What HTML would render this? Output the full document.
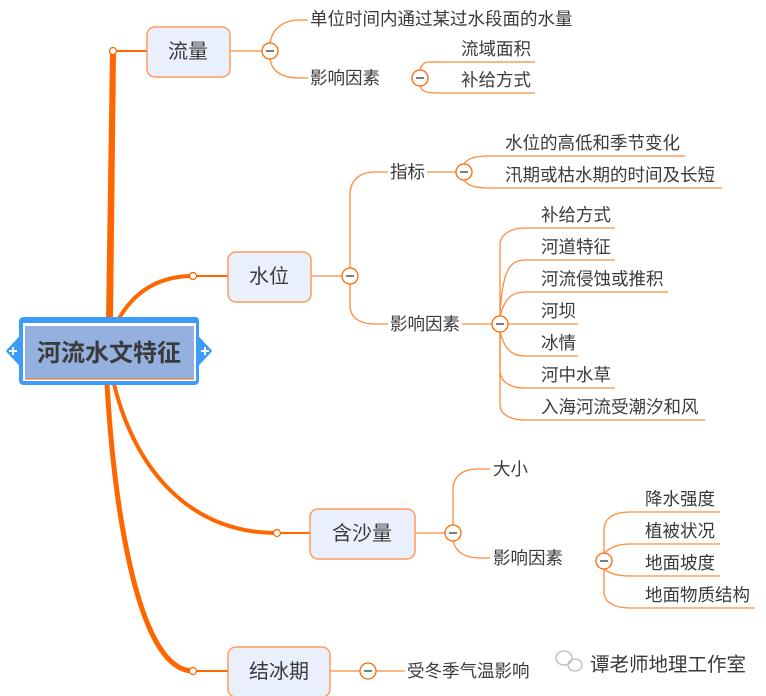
<!DOCTYPE html>
<html><head><meta charset="utf-8"><style>
html,body{margin:0;padding:0;background:#fff;}
svg{display:block;}
text{font-family:"Liberation Sans","Noto Sans CJK SC",sans-serif;fill:#3a3a3a;}
</style></head><body>
<svg width="766" height="696" viewBox="0 0 766 696" xmlns="http://www.w3.org/2000/svg">
<g fill="none" stroke="#ff6600" stroke-linecap="round">
 <path d="M106 320 L110 52 L116 52 L113 320 Z" fill="#ff6600" stroke="none"/>
 <line x1="113" y1="51" x2="147" y2="51" stroke-width="2"/>
 <path d="M118 320 C135 290 160 276 193 276" stroke-width="4"/>
 <line x1="193" y1="276" x2="228" y2="276" stroke-width="2"/>
 <path d="M114 384 C135 470 190 533 277 533" stroke-width="4"/>
 <line x1="277" y1="533" x2="310" y2="533" stroke-width="2"/>
 <path d="M107 384 C115 520 140 671 193 671" stroke-width="5"/>
 <line x1="193" y1="671" x2="228" y2="671" stroke-width="2"/>
</g>
<g fill="#fff" stroke="#ff6600" stroke-width="1.2">
 <circle cx="113" cy="51" r="3.5"/><circle cx="193" cy="276" r="3.5"/>
 <circle cx="277" cy="533" r="3.5"/><circle cx="193" cy="671" r="3.5"/>
</g>
<g fill="none" stroke="#ff8a3c" stroke-width="1.3">
 <line x1="230" y1="51" x2="262" y2="51"/>
 <path d="M270 43 C272 30 282 20 300 20 L308 20"/>
 <path d="M270 59 C272 72 282 78 300 78 L308 78"/>
 <path d="M420 70 C422 60 430 62 440 62 L535 62"/>
 <path d="M420 86 C422 93 430 93 440 93 L535 93"/>
 <line x1="311" y1="276" x2="342" y2="276"/>
 <path d="M350 268 L350 195 C350 180 360 172 375 172 L388 172"/>
 <path d="M350 284 L350 305 C350 318 360 324 375 324 L388 324"/>
 <line x1="427" y1="172" x2="456" y2="172"/>
 <path d="M464 164 C468 158 475 156 490 156 L685 156"/>
 <path d="M464 180 C468 186 475 188 490 188 L722 188"/>
 <line x1="462" y1="324" x2="492" y2="324"/>
 <path d="M500 316 L500 245 C500 235 510 228 525 228 L615 228"/>
 <path d="M500 316 C502 270 510 260 525 260 L615 260"/>
 <path d="M500 316 C505 298 512 292 525 292 L668 292"/>
 <line x1="508" y1="324" x2="578" y2="324"/>
 <path d="M500 332 C505 350 512 356 525 356 L578 356"/>
 <path d="M500 332 L500 370 C500 382 510 388 525 388 L615 388"/>
 <path d="M500 332 L500 405 C500 414 510 420 525 420 L705 420"/>
 <line x1="415" y1="533" x2="445" y2="533"/>
 <path d="M453 525 L453 490 C453 477 462 469 477 469 L490 469"/>
 <path d="M453 541 C456 552 465 558 480 558 L490 558"/>
 <path d="M604 553 L604 530 C604 518 614 512 630 512 L720 512"/>
 <path d="M604 553 C608 550 614 544 630 544 L720 544"/>
 <path d="M604 569 C608 572 614 576 630 576 L720 576"/>
 <path d="M604 569 L604 592 C604 602 614 608 630 608 L755 608"/>
 <line x1="330" y1="671" x2="360" y2="671"/>
 <line x1="376" y1="671" x2="405" y2="671"/>
</g>
<g fill="#fff" stroke="#ff6600" stroke-width="1.3">
 <circle cx="270" cy="51" r="8"/><circle cx="420" cy="78" r="8"/>
 <circle cx="350" cy="276" r="8"/><circle cx="464" cy="172" r="8"/>
 <circle cx="500" cy="324" r="8"/><circle cx="453" cy="533" r="8"/>
 <circle cx="604" cy="561" r="8"/><circle cx="368" cy="671" r="8"/>
</g>
<g stroke="#444" stroke-width="1.4">
 <line x1="266" y1="51" x2="274" y2="51"/><line x1="416" y1="78" x2="424" y2="78"/>
 <line x1="346" y1="276" x2="354" y2="276"/><line x1="460" y1="172" x2="468" y2="172"/>
 <line x1="496" y1="324" x2="504" y2="324"/><line x1="449" y1="533" x2="457" y2="533"/>
 <line x1="600" y1="561" x2="608" y2="561"/><line x1="364" y1="671" x2="372" y2="671"/>
</g>
<g fill="#e9f0fc" stroke="#ff9a5c" stroke-width="1.5">
 <rect x="147" y="27" width="83" height="50" rx="8"/>
 <rect x="228" y="252" width="83" height="50" rx="8"/>
 <rect x="310" y="509" width="105" height="50" rx="8"/>
 <rect x="228" y="647" width="102" height="50" rx="8"/>
</g>
<path d="M24 318 L196 318 Q198 318 198 322 L198 337 L211 351 L198 365 L198 380 Q198 384 194 384 L24 384 Q20 384 20 380 L20 365 L7 351 L20 337 L20 322 Q20 318 24 318 Z" fill="#3d9bfa" stroke="#3d9bfa" stroke-width="2" stroke-linejoin="round"/>
<rect x="23" y="323" width="173" height="58" fill="#fff"/>
<rect x="25" y="326" width="169" height="53" fill="#94b0de"/>
<line x1="25" y1="379" x2="194" y2="379" stroke="#ff6600" stroke-width="1"/>
<g stroke="#fff" stroke-width="2"><line x1="9" y1="351" x2="17" y2="351"/><line x1="13" y1="347" x2="13" y2="355"/><line x1="201" y1="351" x2="209" y2="351"/><line x1="205" y1="347" x2="205" y2="355"/></g>
<text x="109" y="361" font-size="24" text-anchor="middle" font-weight="bold" fill="#333">河流水文特征</text>
<g font-size="20" text-anchor="middle">
 <text x="188" y="58">流量</text><text x="269" y="283">水位</text>
 <text x="362" y="540">含沙量</text><text x="279" y="678">结冰期</text>
</g>
<g font-size="17.5">
 <text x="310" y="25">单位时间内通过某过水段面的水量</text>
 <text x="310" y="84">影响因素</text>
 <text x="461" y="55">流域面积</text><text x="461" y="86">补给方式</text>
 <text x="390" y="178">指标</text><text x="390" y="330">影响因素</text>
 <text x="505" y="149">水位的高低和季节变化</text>
 <text x="505" y="181">汛期或枯水期的时间及长短</text>
 <text x="541" y="221">补给方式</text><text x="541" y="253">河道特征</text>
 <text x="541" y="285">河流侵蚀或推积</text><text x="541" y="317">河坝</text>
 <text x="541" y="349">冰情</text><text x="541" y="381">河中水草</text>
 <text x="541" y="413">入海河流受潮汐和风</text>
 <text x="493" y="475">大小</text><text x="493" y="564">影响因素</text>
 <text x="645" y="505">降水强度</text><text x="645" y="537">植被状况</text>
 <text x="645" y="569">地面坡度</text><text x="645" y="601">地面物质结构</text>
 <text x="407" y="677">受冬季气温影响</text>
</g>
<g fill="none" stroke="#bbb" stroke-width="1.3"><ellipse cx="564" cy="658" rx="8" ry="7"/><ellipse cx="575" cy="665" rx="7" ry="6"/></g>
<text x="590" y="671" font-size="19.5" fill="#aaa">谭老师地理工作室</text>
</svg>
</body></html>
